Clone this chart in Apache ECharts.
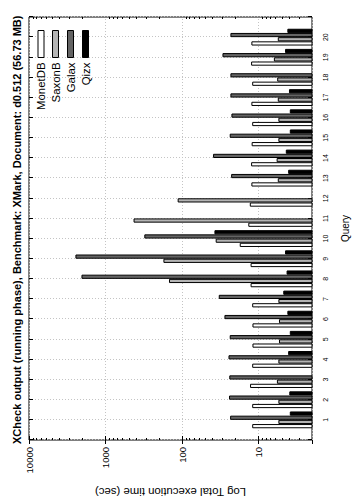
<!DOCTYPE html>
<html>
<head>
<meta charset="utf-8">
<script src="https://cdn.jsdelivr.net/npm/echarts@6/dist/echarts.min.js"></script>
<style>
  html, body { margin: 0; padding: 0; background: #fff; overflow: hidden; }
  #chart {
    position: absolute; left: 0; top: 0;
    width: 502px; height: 352px;
    transform-origin: 0 0;
    transform: translateY(502px) rotate(-90deg);
  }
</style>
</head>
<body>
<div id="chart"></div>
<script>
var queries = [1, 2, 3, 4, 5, 6, 7, 8, 9, 10, 11, 12, 13, 14, 15, 16, 17, 18, 19, 20];
var monetdb = [12.1, 12.1, 12.9, 12.1, 12.0, 12.0, 12.1, 12.7, 12.7, 17.6, 13.6, 13.0, 12.4, 12.5, 12.3, 12.1, 12.4, 12.1, 12.5, 12.4];
var saxonb  = [5.5, 5.5, 5.75, 5.5, 5.4, 5.4, 5.5, 148, 175, 36.3, 430, 114, 5.6, 5.8, 5.5, 5.5, 5.6, 5.7, 6.3, 5.6];
var galax   = [23.5, 24.3, 24.1, 24.7, 23.8, 27.9, 33.1, 2062, 2473, 311, null, null, 22.8, 39.3, 23.8, 22.6, 23.3, 23.3, 29.6, 23.3];
var qizx    = [3.9, 3.96, null, 4.1, 3.9, 4.2, 4.75, 4.3, 4.5, 37.7, null, null, 4.1, 4.4, 3.9, 3.9, 4.0, null, 4.5, 4.2];
var logTicks = [10, 100, 1000, 10000];

var font = 'Liberation Sans, Arial, Helvetica, sans-serif';

function pairs(vals) {
  var out = [];
  for (var i = 0; i < queries.length; i++) {
    if (vals[i] != null) out.push([queries[i], vals[i]]);
  }
  return out;
}

function barSeries(name, vals, fill) {
  return {
    name: name,
    type: 'bar',
    data: pairs(vals),
    barWidth: 4.2,
    barGap: '0%',
    clip: true,
    itemStyle: { color: fill, borderColor: '#000', borderWidth: 1 },
    emphasis: { disabled: true }
  };
}

function legendAt(name, top) {
  return {
    data: [name],
    right: 30,
    top: top,
    padding: 0,
    align: 'right',
    icon: 'rect',
    itemWidth: 27,
    itemHeight: 6,
    selectedMode: false,
    itemStyle: { borderWidth: 1, borderColor: '#000' },
    textStyle: { fontFamily: font, fontSize: 11.4, color: '#000' }
  };
}

var chart = echarts.init(document.getElementById('chart'), null, { renderer: 'svg' });

var dotted = { color: '#c4c4c4', width: 1, type: [1, 2] };

var option = {
  animation: false,
  backgroundColor: '#fff',
  title: {
    text: 'XCheck output (running phase), Benchmark: XMark, Document: d0.512 (56.73 MB)',
    left: 58,
    top: 11,
    padding: 0,
    textStyle: { fontFamily: font, fontSize: 11, fontWeight: 'bold', color: '#000' }
  },
  legend: [
    legendAt('MonetDB', 35.5),
    legendAt('SaxonB', 50),
    legendAt('Galax', 65),
    legendAt('Qizx', 80)
  ],
  grid: {
    left: 62, right: 17, top: 29, bottom: 40,
    show: true, borderColor: '#000', borderWidth: 1,
    outerBoundsMode: 'none'
  },
  xAxis: [{
    type: 'value',
    min: 0, max: 21, interval: 1,
    name: 'Query',
    nameLocation: 'middle',
    nameGap: 28,
    nameTextStyle: { fontFamily: font, fontSize: 10, color: '#000' },
    axisLine: { show: false },
    axisTick: { inside: true, length: 4, lineStyle: { color: '#000' } },
    axisLabel: {
      margin: 10, fontFamily: font, fontSize: 7, color: '#000',
      formatter: function (v) { return (v >= 1 && v <= 20) ? String(v) : ''; }
    },
    splitLine: { show: true, lineStyle: dotted }
  }, {
    type: 'value',
    position: 'top',
    min: 0, max: 21, interval: 1,
    axisLine: { show: false },
    axisTick: { inside: true, length: 4, lineStyle: { color: '#000' } },
    axisLabel: { show: false },
    splitLine: { show: false }
  }],
  yAxis: [{
    type: 'log',
    logBase: 10,
    min: 2, max: 10000,
    name: 'Log Total execution time (sec)',
    nameLocation: 'middle',
    nameGap: 46,
    nameRotate: 90,
    nameTextStyle: { fontFamily: font, fontSize: 11.4, color: '#000' },
    axisLine: { show: false },
    axisTick: { inside: true, length: 4, lineStyle: { color: '#000' } },
    axisLabel: {
      margin: 7, fontFamily: font, fontSize: 9.5, color: '#000',
      showMinLabel: false,
      formatter: function (v) { return logTicks.indexOf(Math.round(v)) >= 0 ? String(Math.round(v)) : ''; }
    },
    splitLine: { show: true, lineStyle: dotted }
  }, {
    type: 'log',
    logBase: 10,
    min: 2, max: 10000,
    position: 'right',
    axisLine: { show: false },
    axisTick: { inside: true, length: 4, lineStyle: { color: '#000' } },
    axisLabel: { show: false },
    splitLine: { show: false }
  }],
  series: [
    barSeries('MonetDB', monetdb, '#ffffff'),
    barSeries('SaxonB', saxonb, '#b4b4b4'),
    barSeries('Galax', galax, '#646464'),
    barSeries('Qizx', qizx, '#000000')
  ]
};

chart.setOption(option);

// minor ticks of the log axis (2..9 in each decade), both sides
var minor = [];
var xl = 62, xr = 502 - 17;
[1, 10, 100, 1000].forEach(function (d) {
  for (var k = 2; k <= 9; k++) {
    var v = k * d;
    if (v <= 2 || v >= 10000) continue;
    var y = Math.round(chart.convertToPixel({ yAxisIndex: 0 }, v)) + 0.5;
    minor.push({ type: 'line', silent: true, shape: { x1: xl, y1: y, x2: xl + 2, y2: y }, style: { stroke: '#000', lineWidth: 1 } });
    minor.push({ type: 'line', silent: true, shape: { x1: xr, y1: y, x2: xr - 2, y2: y }, style: { stroke: '#000', lineWidth: 1 } });
  }
});
chart.setOption({ graphic: minor });
</script>
</body>
</html>
